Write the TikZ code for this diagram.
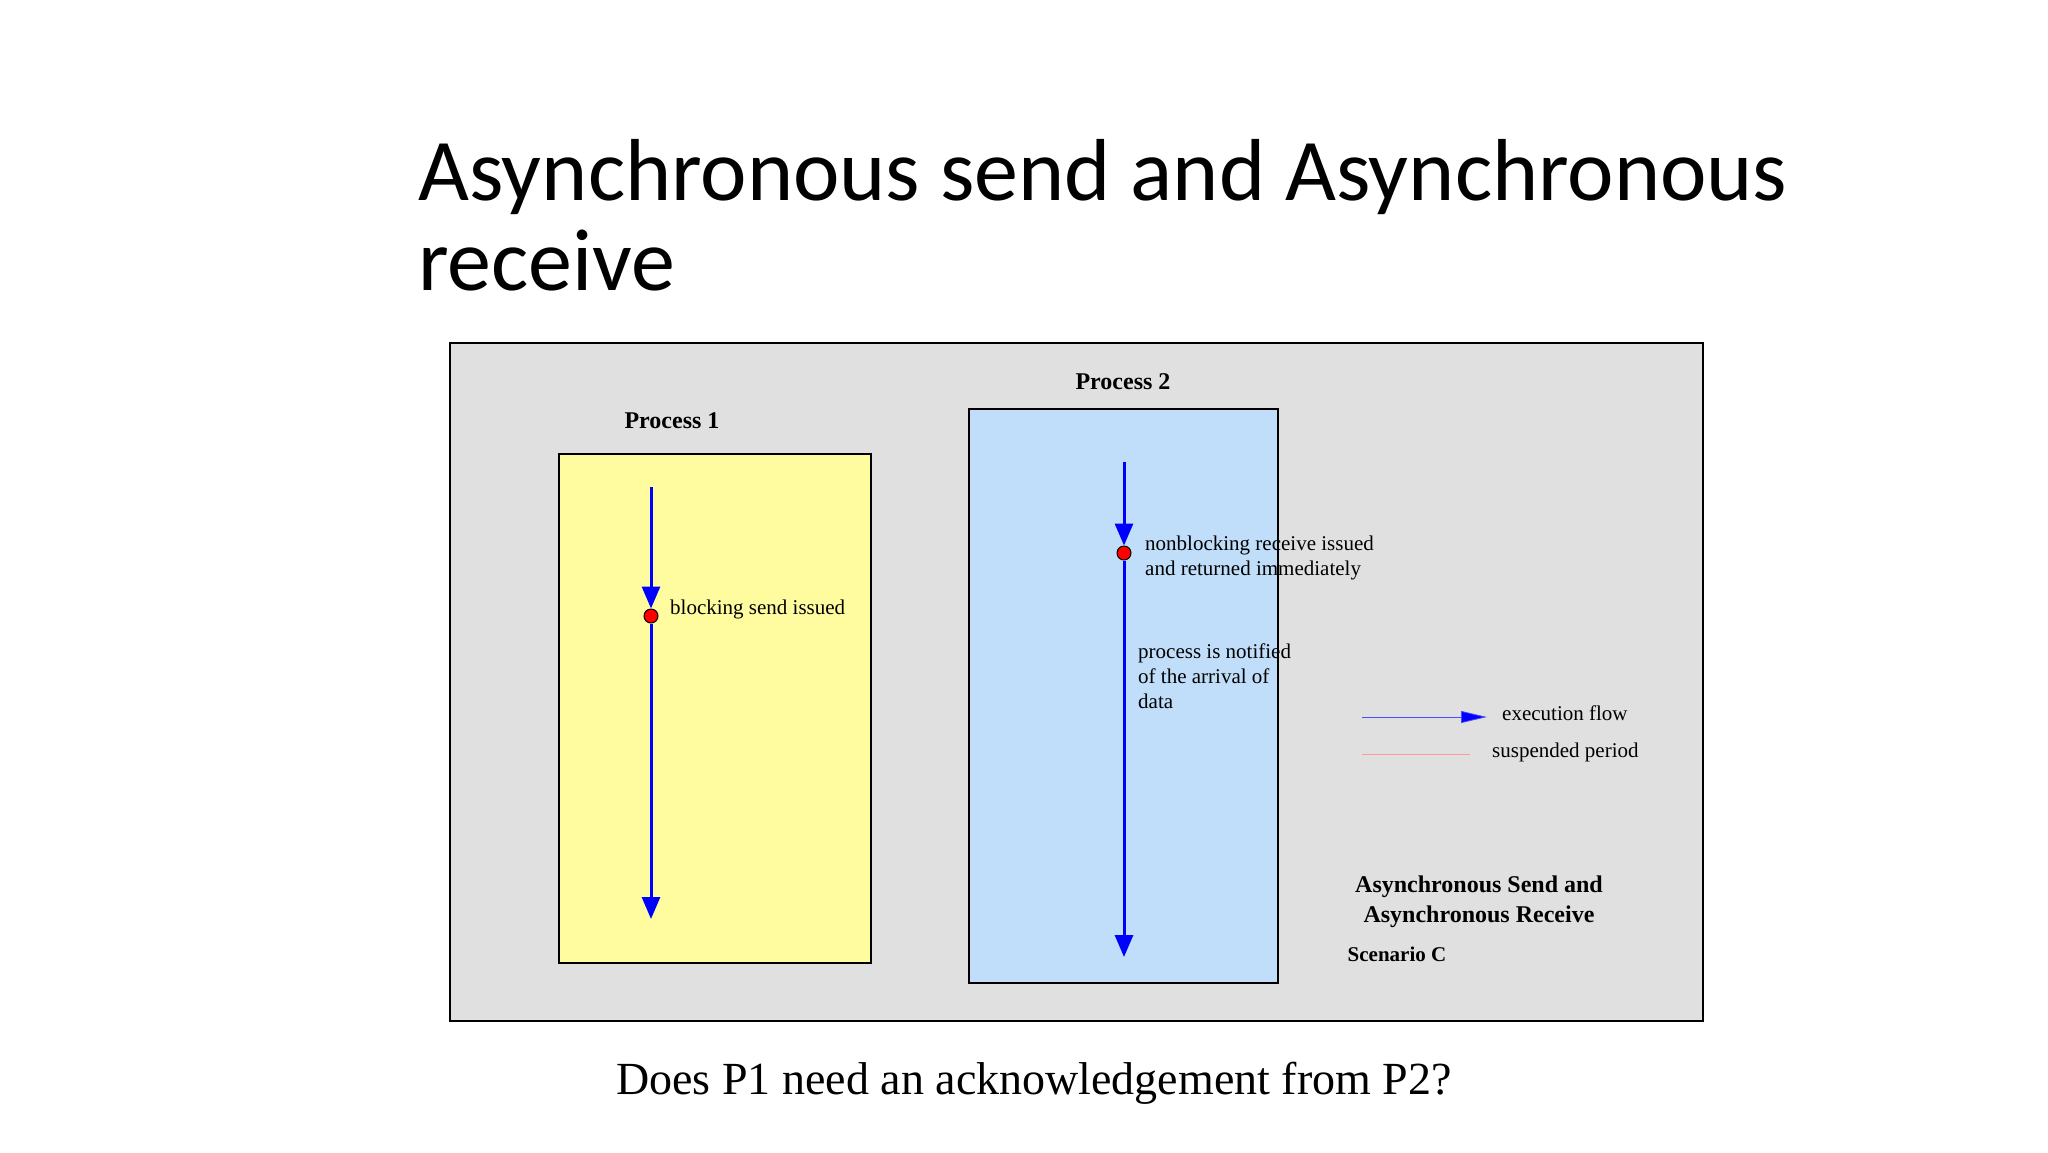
\documentclass[tikz,border=0pt]{standalone}
\usepackage{fontspec}
\setmainfont{Liberation Serif}
\newfontfamily\titlefont{Carlito}
\usetikzlibrary{arrows.meta}
\definecolor{bggray}{RGB}{224,224,224}
\definecolor{pyellow}{RGB}{255,252,160}
\definecolor{pblue}{RGB}{192,222,250}
\begin{document}
\begin{tikzpicture}[x=1pt,y=-1pt,
  lbl/.style={font=\fontsize{21}{25}\selectfont,inner sep=0pt,anchor=west,align=left},
  bld/.style={font=\fontsize{24}{30}\selectfont\bfseries,inner sep=0pt},
  flow/.style={blue,line width=3pt,-{Triangle[length=22pt,width=18pt]}},
  dot/.style={circle,fill=red,draw=black,line width=1pt,minimum size=14pt,inner sep=0pt}]
\useasboundingbox[fill=white] (0,0) rectangle (2048,1152);
\node[anchor=base west,inner sep=0pt,font=\titlefont\fontsize{88}{100}\selectfont] (t1) at (418,200) {Asynchronous send and Asynchronous};
\node[anchor=base west,inner sep=0pt,font=\titlefont\fontsize{88}{100}\selectfont] (t2) at (418,290) {receive};
\draw[fill=bggray,line width=1.5pt] (450,343) rectangle (1703,1021);
\fill[pyellow] (559,454) rectangle (871,963);
\fill[pblue] (969,409) rectangle (1278,983);
\node[bld] (p1) at (672,421) {Process 1};
\node[bld] (p2) at (1123,382) {Process 2};
\coordinate (a1) at (651,487); \coordinate (a1e) at (651,919);
\coordinate (b1) at (1124,462); \coordinate (b1e) at (1124,957);
\node[dot] (d1) at (651,616) {};
\node[dot] (d2) at (1124,553) {};
\draw[flow] (a1) -- (d1.north);
\draw[flow] (d1.south) -- (a1e);
\draw[flow] (b1) -- (d2.north);
\draw[flow] (d2.south) -- (b1e);
\node[lbl] (l1) at (670,609) {blocking send issued};
\node[lbl] (l2) at (1145,558) {nonblocking receive issued\\and returned immediately};
\node[lbl] (l3) at (1138,676) {process is notified\\of the arrival of\\data};
\draw[draw=black,line width=1.5pt] (559,454) rectangle (871,963);
\draw[draw=black,line width=1.5pt] (969,409) rectangle (1278,983);
\coordinate (e1) at (1362,717); \coordinate (e2) at (1487,717);
\draw[blue!70,line width=0.8pt,-{Triangle[length=26pt,width=12pt,fill=blue]}] (e1) -- (e2);
\node[lbl] (e) at (1502,713) {execution flow};
\coordinate (s1) at (1362,754); \coordinate (s2) at (1470,754);
\draw[red!40,line width=0.8pt] (s1) -- (s2);
\node[lbl] (s) at (1492,752) {suspended period};
\node[bld,align=center] (c) at (1479,902) {Asynchronous Send and\\Asynchronous Receive};
\node[bld,font=\fontsize{21}{25}\selectfont\bfseries] (sc) at (1397,954) {Scenario C};
\node[inner sep=0pt,font=\fontsize{46}{50}\selectfont] (q) at (1034,1083) {Does P1 need an acknowledgement from P2?};
\end{tikzpicture}
\end{document}
